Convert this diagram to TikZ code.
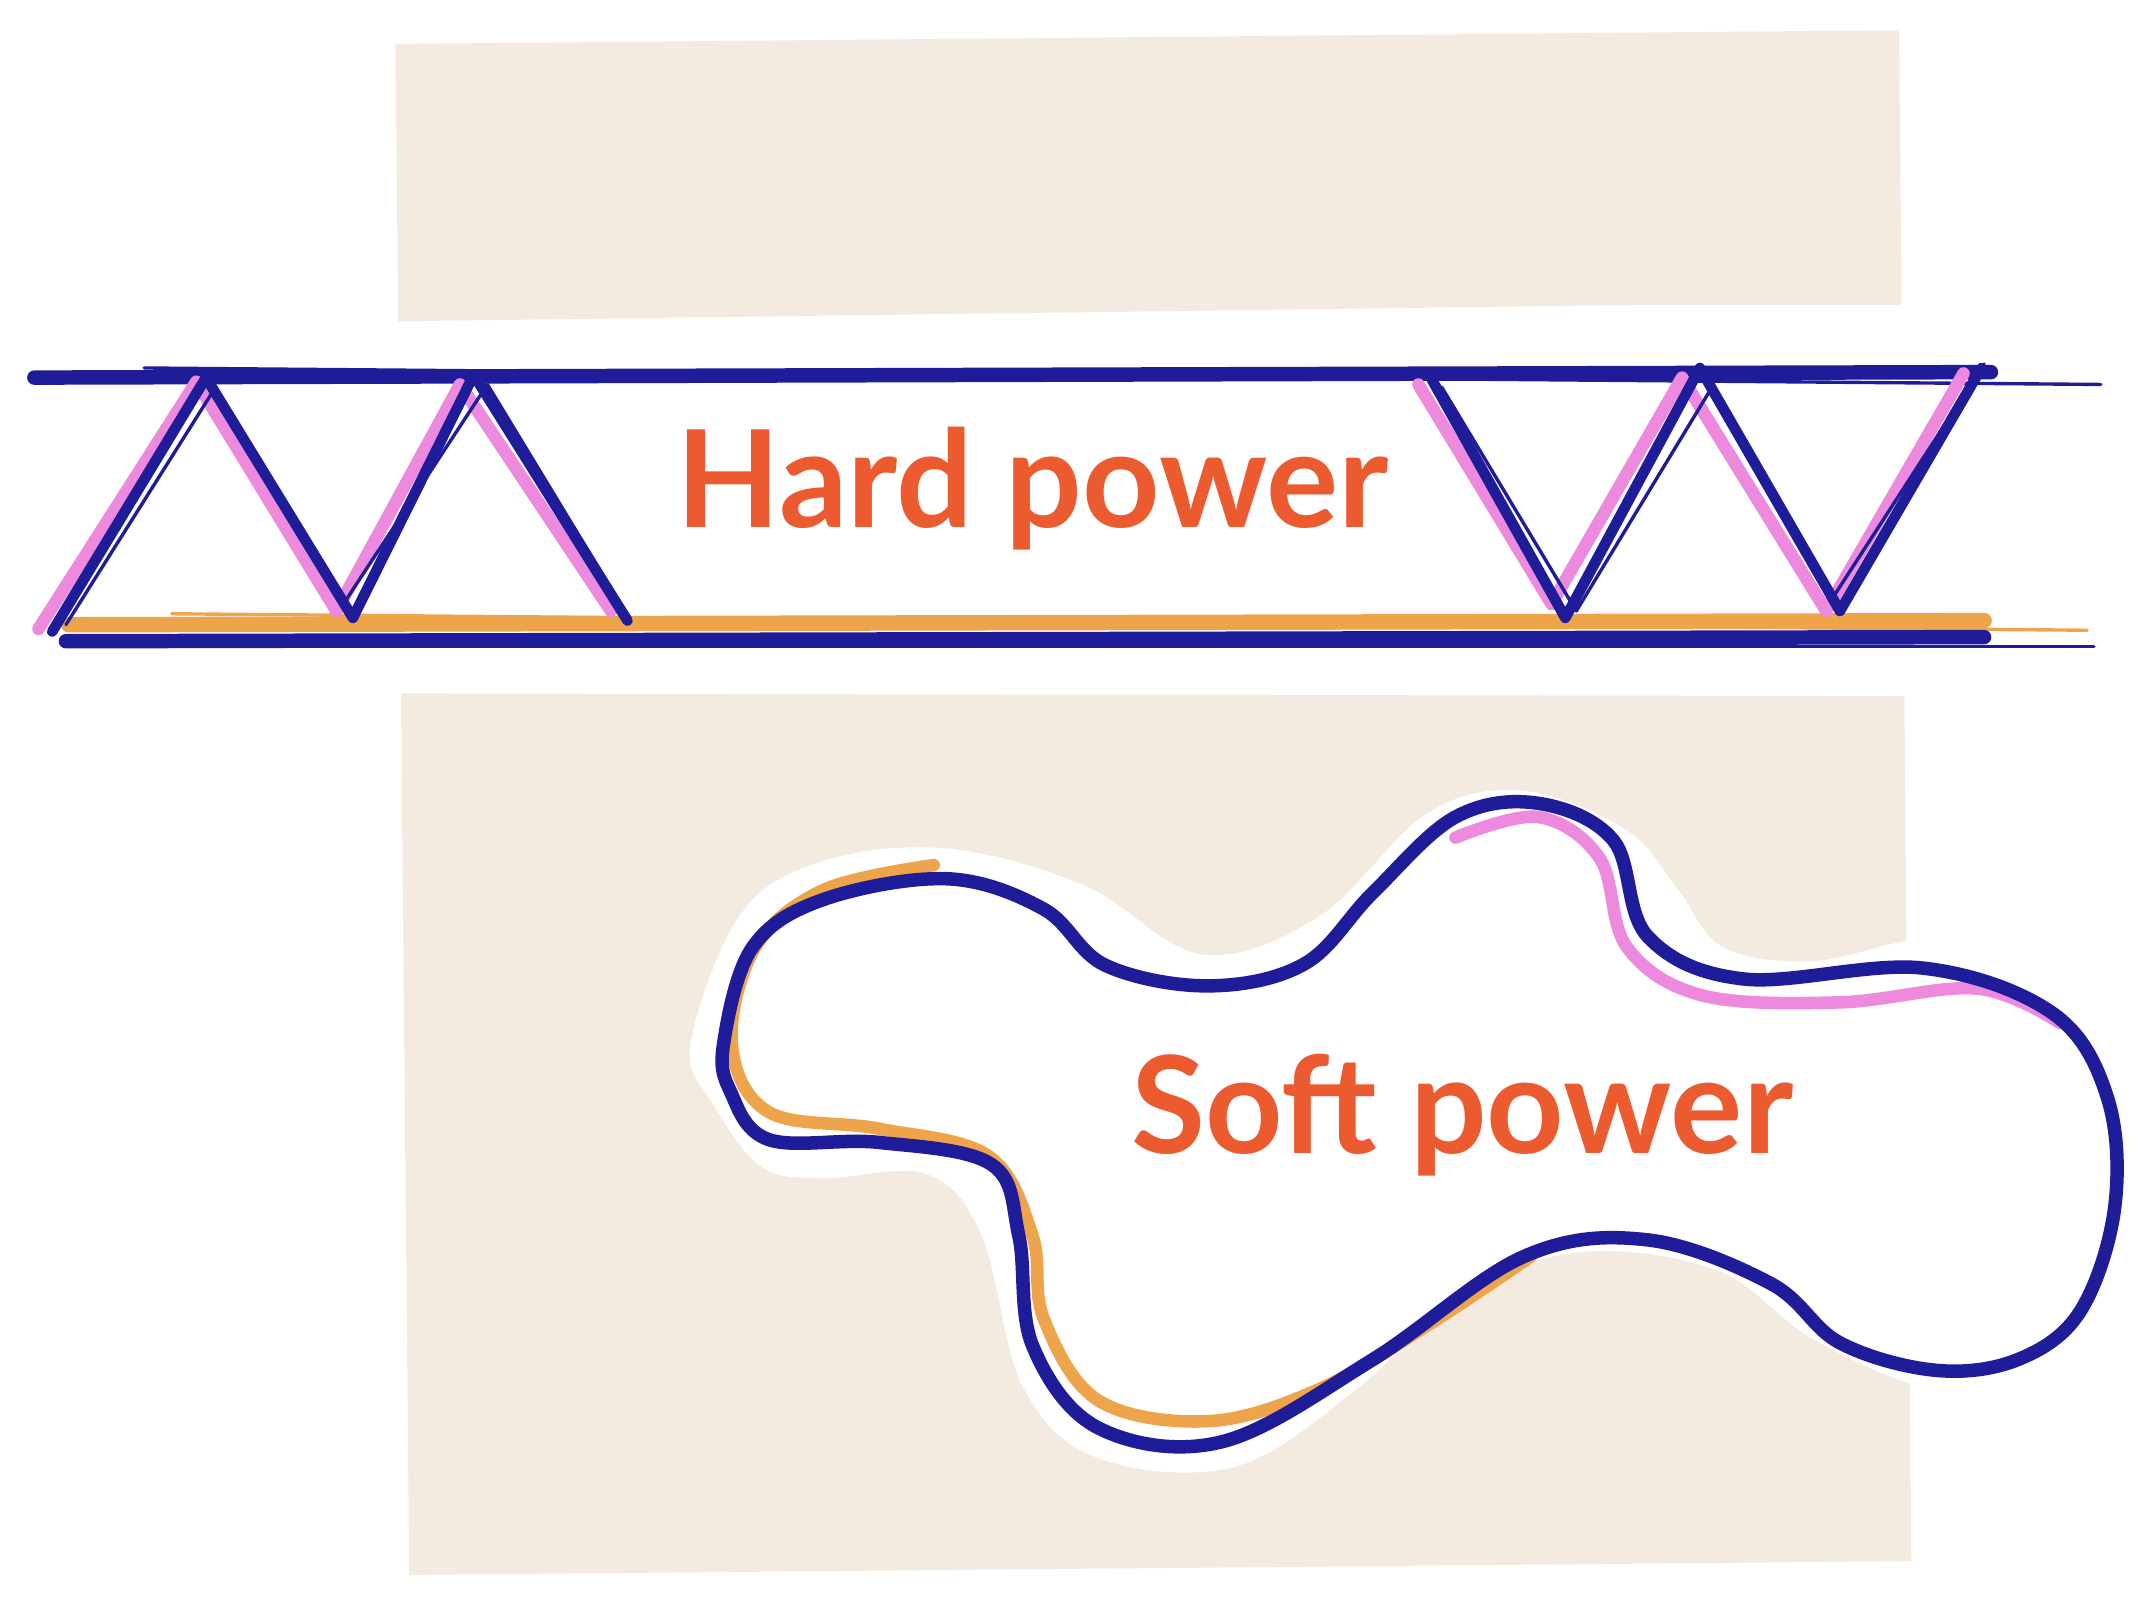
\documentclass[tikz,border=0pt]{standalone}
\usepackage{fontspec}
\setmainfont{Lato}
\begin{document}
\begin{tikzpicture}[x=0.1mm,y=-0.1mm,line cap=round,line join=round,
  navy/.style={draw=nv,line width=2.2pt},
  thin/.style={draw=nv,line width=0.7pt},
  pk/.style={draw=pk,line width=2.6pt},
  orl/.style={draw=og,line width=2.6pt},
  lbl/.style={text=tx,font=\bfseries\fontsize{28}{34}\selectfont,inner sep=0pt}]
\definecolor{nv}{HTML}{1F1C9A}
\definecolor{pk}{HTML}{EE8ADE}
\definecolor{og}{HTML}{EEA44A}
\definecolor{bg}{HTML}{F3EBDF}
\definecolor{tx}{HTML}{EC5B30}
\useasboundingbox (0,0) rectangle (1560,1171);
% beige panels
\fill[bg] (288,32) -- (1383,22) -- (1385,222) -- (1200,222) -- (290,234) -- cycle;
\fill[bg] (292,505) -- (1387,507) -- (1392,1137) -- (298,1147) -- cycle;
% white halo
\fill[white] plot[smooth cycle,tension=0.6] coordinates {(503,760) (540,665) (600,627) (690,618) (790,645) (875,695) (960,668) (1040,592) (1110,576) (1185,605) (1222,648) (1255,690) (1320,700) (1400,684) (1440,700) (1440,1000) (1400,1010) (1320,975) (1250,925) (1150,912) (1060,945) (990,1010) (900,1068) (800,1062) (745,1010) (715,900) (675,855) (600,858) (555,850) (520,805)};
% blob
\draw[pk] plot[smooth,tension=0.6] coordinates {(1060,610) (1120,595) (1165,625) (1185,690) (1240,725) (1340,730) (1440,720) (1500,745)};
\draw[orl] plot[smooth,tension=0.6] coordinates {(680,630) (600,648) (550,690) (533,760) (560,810) (640,822) (720,842) (752,900) (760,960) (800,1020) (880,1035) (960,1012) (1040,965) (1115,915)};
\draw[navy,line width=2.8pt] plot[smooth cycle,tension=0.6] coordinates {(527,760) (548,690) (600,655) (690,640) (760,662) (805,703) (880,718) (950,702) (1000,650) (1060,595) (1120,585) (1175,612) (1200,682) (1270,713) (1400,705) (1495,738) (1535,800) (1540,880) (1515,955) (1470,990) (1410,998) (1340,978) (1290,935) (1200,903) (1110,915) (1000,990) (890,1050) (800,1040) (752,980) (742,900) (722,848) (640,832) (560,830) (532,795)};
% truss beams
\draw[navy,line width=3pt] (25,275) -- (1450,271);
\draw[thin] (105,268) -- (1530,280);
\draw[orl,line width=3.2pt] (50,455) -- (1445,452);
\draw[thin,draw=og] (125,447) -- (1520,459);
\draw[navy,line width=3pt] (48,467) -- (1445,464);
\draw[thin] (165,471) -- (1525,471);
% left zigzags
\draw[pk] (28,458) -- (143,278) -- (245,445) -- (335,280) -- (445,445);
\draw[navy] (38,460) -- (150,275) -- (257,450) -- (345,273) -- (457,452);
\draw[thin] (48,455) -- (157,282) -- (250,440) -- (355,280) -- (455,445);
% right zigzags
\draw[pk] (1033,280) -- (1130,440) -- (1225,275) -- (1330,445) -- (1430,272);
\draw[navy] (1042,275) -- (1140,450) -- (1238,268) -- (1340,445) -- (1443,268);
\draw[thin] (1050,282) -- (1148,445) -- (1245,285) -- (1335,435) -- (1445,265);
% labels
\node[lbl] (hard) at (752,356) {Hard power};
\node[lbl] (soft) at (1065,812) {Soft power};
\end{tikzpicture}
\end{document}
